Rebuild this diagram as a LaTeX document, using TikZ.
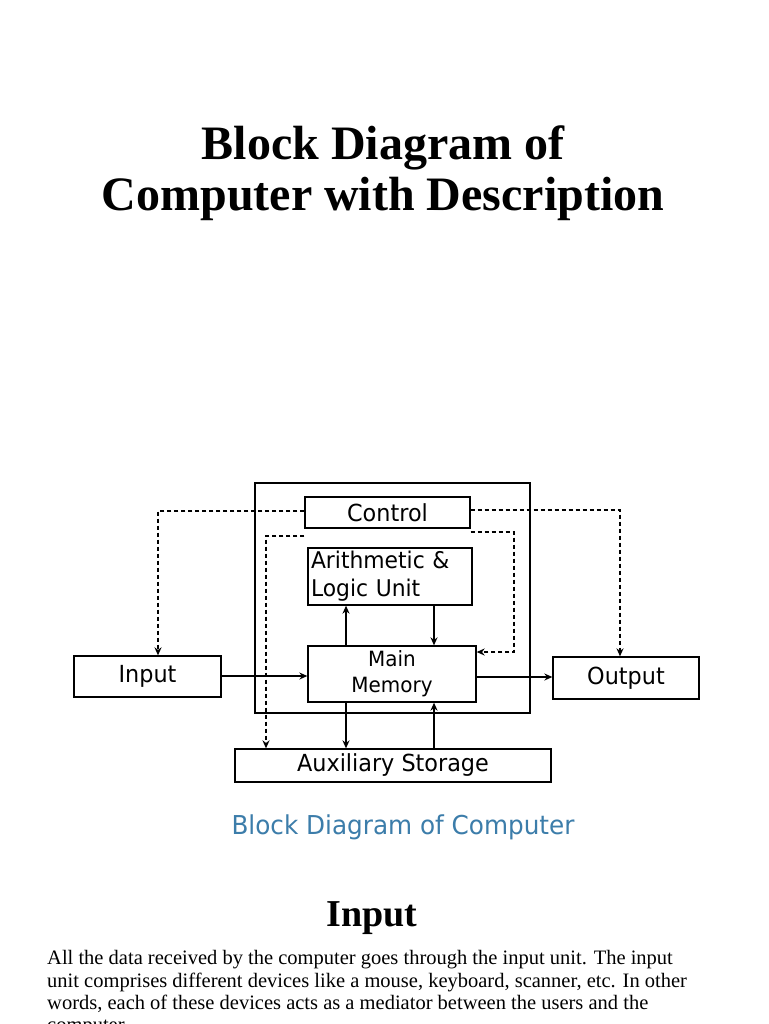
\documentclass[tikz,border=0pt]{standalone}
\usepackage{fontspec}
\setmainfont{Liberation Serif}
\newfontfamily\boxfont{DejaVu Sans}[FakeStretch=0.95]
\usetikzlibrary{arrows.meta}
\definecolor{capblue}{RGB}{60,125,170}
\begin{document}
\begin{tikzpicture}[x=1pt,y=-1pt,
  blk/.style={draw,line width=1.3pt,font=\boxfont\fontsize{23.5}{26}\selectfont,inner sep=0pt},
  sol/.style={line width=1.6pt,-{Stealth[length=8pt,width=7pt]}},
  dsh/.style={line width=1.6pt,dash pattern=on 4pt off 3pt,-{Stealth[length=8pt,width=7pt]}},
  txt/.style={anchor=base west,inner sep=0pt,font=\fontsize{20.5}{22}\selectfont}]
\path[use as bounding box,fill=white] (0,0) rectangle (768,1024);
\clip (0,0) rectangle (768,1024);
\node[font=\bfseries\fontsize{48}{50}\selectfont,align=center] (t1) at (383,148) {Block Diagram of};
\node[font=\bfseries\fontsize{48}{50}\selectfont,align=center] (t2) at (383,199) {Computer with Description};
% outer box
\draw[line width=1.3pt] (255,483) rectangle (530,713);
\node[blk,minimum width=165pt,minimum height=31pt] (ctl) at (387.5,512.5) {Control};
\node[blk,minimum width=164pt,minimum height=57pt,text width=158pt,align=left,font=\boxfont\fontsize{23}{28}\selectfont] (alu) at (390,576.5) {Arithmetic \&\\Logic Unit};
\node[blk,minimum width=168pt,minimum height=56pt,align=center,font=\boxfont\fontsize{21}{26}\selectfont] (mem) at (392,674) {Main\\Memory};
\node[blk,minimum width=147pt,minimum height=41pt] (in) at (147.5,676.5) {Input};
\node[blk,minimum width=146pt,minimum height=42pt] (out) at (626,678) {Output};
\node[blk,minimum width=316pt,minimum height=33pt] (aux) at (393,765.5) {Auxiliary Storage};
\node[font=\boxfont\fontsize{26}{28}\selectfont,text=capblue] (cap) at (403,827) {Block Diagram of Computer};
% solid arrows
\draw[sol] (in.east |- 0,676) -- (mem.west |- 0,676);
\draw[sol] (mem.east |- 0,677) -- (out.west |- 0,677);
\draw[sol] (mem.north -| 346,0) -- (alu.south -| 346,0);
\draw[sol] (alu.south -| 434,0) -- (mem.north -| 434,0);
\draw[sol] (mem.south -| 346,0) -- (aux.north -| 346,0);
\draw[sol] (aux.north -| 434,0) -- (mem.south -| 434,0);
% dashed
\coordinate (a1) at (158,511); \coordinate (a2) at (620,510);
\coordinate (b1) at (266,536); \coordinate (b2) at (514,532);
\draw[dsh] (ctl.west |- a1) -- (a1) -- (in.north -| a1);
\draw[dsh] (ctl.east |- a2) -- (a2) -- (out.north -| a2);
\draw[dsh] (ctl.west |- b1) -- (b1) -- (aux.north -| b1);
\draw[dsh] (ctl.east |- b2) -- (b2) -- (514,652) -- (mem.east |- 0,652);
\node[font=\bfseries\fontsize{38}{40}\selectfont] (h) at (372,918) {Input};
\node[txt] (p1) at (47,964) {All the data received by the computer goes through the input unit. The input};
\node[txt] (p2) at (47,987) {unit comprises different devices like a mouse, keyboard, scanner, etc. In other};
\node[txt] (p3) at (47,1009) {words, each of these devices acts as a mediator between the users and the};
\node[txt] (p4) at (47,1031) {computer.};
\end{tikzpicture}
\end{document}
